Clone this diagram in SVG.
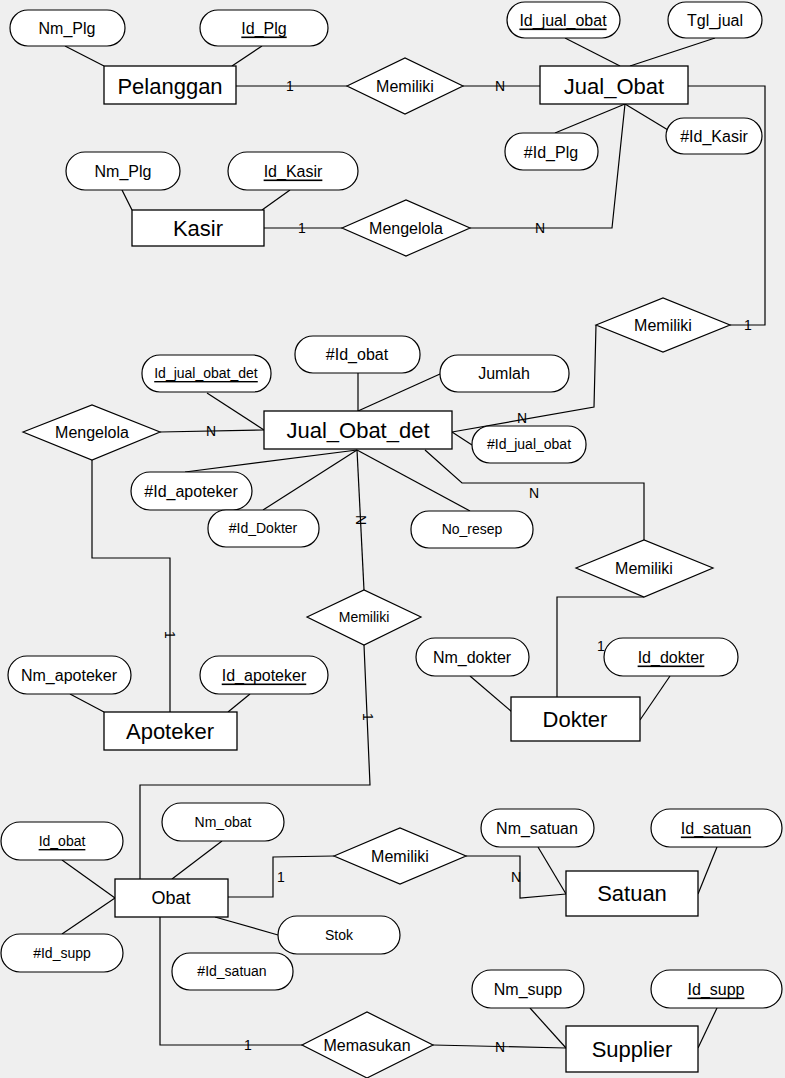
<svg xmlns="http://www.w3.org/2000/svg" width="785" height="1078" viewBox="0 0 785 1078">
<style>
.e{fill:#fff;stroke:#000;stroke-width:1.3}
.a{fill:#fff;stroke:#000;stroke-width:1.2}
.r{fill:#fff;stroke:#000;stroke-width:1.2}
text{font-family:"Liberation Sans Narrow","Liberation Sans",Arial,sans-serif;text-anchor:middle;dominant-baseline:central;fill:#000}
.t{font-size:22px}
.s{font-size:16px}
.x{font-size:14px}
.u{text-decoration:underline}
.c line,.c polyline{stroke:#000;stroke-width:1.2;fill:none}
.c text{font-size:14px}
</style>
<rect width="785" height="1078" fill="#efefef"/>
<g class="c" id="connectors">
<line x1="65" y1="46" x2="104" y2="66"/><line x1="262" y1="46" x2="232" y2="66"/>
<line x1="236" y1="86" x2="347" y2="86"/><text x="290" y="86">1</text>
<line x1="463" y1="86" x2="540" y2="86"/><text x="500" y="86">N</text>
<line x1="565" y1="38" x2="620" y2="66"/><line x1="715" y1="38" x2="630" y2="66"/>
<line x1="625" y1="104" x2="555" y2="133"/><line x1="625" y1="104" x2="668" y2="130"/>
<line x1="122" y1="190" x2="132" y2="210"/><line x1="290" y1="190" x2="262" y2="210"/>
<line x1="264" y1="228" x2="342" y2="228"/><text x="302" y="228">1</text>
<polyline points="470,228 612,228 625,104"/><text x="540" y="228">N</text>
<polyline points="688,86 765,86 765,325 730,325"/><text x="748" y="325">1</text>
<polyline points="596,325 594,407 452,432"/><text x="522" y="418">N</text>
<line x1="452" y1="432" x2="472" y2="445"/>
<line x1="207" y1="393" x2="264" y2="430"/>
<line x1="358" y1="373" x2="358" y2="411"/><line x1="440" y1="374" x2="358" y2="411"/>
<line x1="160" y1="432" x2="264" y2="430"/><text x="211" y="431">N</text>
<polyline points="92,460 92,558 170,558 170,712"/><text x="170" y="635" transform="rotate(90 170 635)">1</text>
<line x1="357" y1="450" x2="185" y2="472"/><line x1="357" y1="450" x2="263" y2="510"/><line x1="357" y1="450" x2="470" y2="511"/>
<line x1="357" y1="450" x2="364" y2="590"/><text x="361" y="520" transform="rotate(90 361 520)">N</text>
<polyline points="425,450 462,483 644,483 644,540"/><text x="534" y="493">N</text>
<polyline points="644,597 557,597 557,697"/>
<line x1="470" y1="676" x2="512" y2="712"/><line x1="670" y1="676" x2="640" y2="720"/><text x="601" y="646">1</text>
<line x1="70" y1="694" x2="104" y2="712"/><line x1="250" y1="694" x2="228" y2="712"/>
<polyline points="364,645 370,785 140,785 140,879"/><text x="368" y="717" transform="rotate(90 368 717)">1</text>
<line x1="62" y1="860" x2="115" y2="898"/><line x1="62" y1="934" x2="115" y2="898"/>
<line x1="222" y1="841" x2="172" y2="879"/><line x1="215" y1="917" x2="278" y2="935"/>
<polyline points="228,897 273,897 273,857 334,856"/><text x="281" y="877">1</text>
<polyline points="466,856 520,856 520,898 566,894"/><text x="516" y="877">N</text>
<line x1="538" y1="847" x2="566" y2="894"/><line x1="717" y1="847" x2="698" y2="894"/>
<polyline points="160,917 160,1045 302,1045"/><text x="248" y="1045">1</text>
<line x1="433" y1="1045" x2="566" y2="1048"/><text x="500" y="1047">N</text>
<line x1="530" y1="1008" x2="566" y2="1048"/><line x1="717" y1="1008" x2="698" y2="1048"/>
</g>
<g id="Pelanggan"><rect class="e" x="104" y="66" width="132" height="38"/><text class="t" x="170" y="86">Pelanggan</text></g>
<g id="Nm_Plg1"><rect class="a" x="10" y="10" width="115" height="36" rx="18"/><text class="s" x="67" y="28">Nm_Plg</text></g>
<g id="Id_Plg"><rect class="a" x="200" y="10" width="128" height="36" rx="18"/><text class="s u" x="264" y="28">Id_Plg</text></g>
<g id="Memiliki1"><polygon class="r" points="347,86 405,58 463,86 405,114"/><text class="s" x="405" y="86">Memiliki</text></g>
<g id="Jual_Obat"><rect class="e" x="540" y="66" width="148" height="38"/><text class="t" x="614" y="86">Jual_Obat</text></g>
<g id="Id_jual_obat"><rect class="a" x="507" y="2" width="113" height="36" rx="18"/><text class="s u" x="563" y="20">Id_jual_obat</text></g>
<g id="Tgl_jual"><rect class="a" x="668" y="2" width="94" height="36" rx="18"/><text class="s" x="715" y="20">Tgl_jual</text></g>
<g id="Id_Plg2"><rect class="a" x="505" y="133" width="93" height="37" rx="18"/><text class="s" x="551" y="152">#Id_Plg</text></g>
<g id="Id_Kasir2"><rect class="a" x="666" y="118" width="96" height="36" rx="18"/><text class="s" x="714" y="136">#Id_Kasir</text></g>
<g id="Kasir"><rect class="e" x="132" y="210" width="132" height="36"/><text class="t" x="198" y="228">Kasir</text></g>
<g id="Nm_Plg2"><rect class="a" x="66" y="152" width="114" height="38" rx="19"/><text class="s" x="123" y="171">Nm_Plg</text></g>
<g id="Id_Kasir"><rect class="a" x="228" y="152" width="130" height="38" rx="19"/><text class="s u" x="293" y="171">Id_Kasir</text></g>
<g id="Mengelola1"><polygon class="r" points="342,228 406,200 470,228 406,256"/><text class="s" x="406" y="228">Mengelola</text></g>
<g id="Memiliki2"><polygon class="r" points="596,325 663,298 730,325 663,352"/><text class="s" x="663" y="325">Memiliki</text></g>
<g id="Jual_Obat_det"><rect class="e" x="264" y="411" width="188" height="38"/><text class="t" x="358" y="430">Jual_Obat_det</text></g>
<g id="Id_jual_obat_det"><rect class="a" x="142" y="355" width="129" height="37" rx="18"/><text class="x u" x="206" y="373">Id_jual_obat_det</text></g>
<g id="Id_obat2"><rect class="a" x="295" y="336" width="125" height="37" rx="18"/><text class="s" x="357" y="354">#Id_obat</text></g>
<g id="Jumlah"><rect class="a" x="440" y="355" width="129" height="37" rx="18"/><text class="s" x="504" y="373">Jumlah</text></g>
<g id="Id_jual_obat2"><rect class="a" x="472" y="426" width="114" height="37" rx="18"/><text class="x" x="529" y="444">#Id_jual_obat</text></g>
<g id="Mengelola2"><polygon class="r" points="23,432 92,405 160,432 92,460"/><text class="s" x="92" y="432">Mengelola</text></g>
<g id="Id_apoteker2"><rect class="a" x="131" y="472" width="121" height="38" rx="19"/><text class="s" x="191" y="491">#Id_apoteker</text></g>
<g id="Id_Dokter2"><rect class="a" x="208" y="510" width="111" height="37" rx="18"/><text class="x" x="263" y="528">#Id_Dokter</text></g>
<g id="No_resep"><rect class="a" x="411" y="511" width="122" height="37" rx="18"/><text class="x" x="472" y="529">No_resep</text></g>
<g id="Memiliki3"><polygon class="r" points="307,617 364,590 421,617 364,645"/><text class="x" x="364" y="617">Memiliki</text></g>
<g id="Memiliki4"><polygon class="r" points="576,568 644,540 713,568 644,597"/><text class="s" x="644" y="568">Memiliki</text></g>
<g id="Dokter"><rect class="e" x="511" y="697" width="129" height="44"/><text class="t" x="575" y="719">Dokter</text></g>
<g id="Nm_dokter"><rect class="a" x="416" y="638" width="113" height="38" rx="19"/><text class="s" x="472" y="657">Nm_dokter</text></g>
<g id="Id_dokter"><rect class="a" x="604" y="638" width="134" height="38" rx="19"/><text class="s u" x="671" y="657">Id_dokter</text></g>
<g id="Apoteker"><rect class="e" x="104" y="712" width="133" height="38"/><text class="t" x="170" y="731">Apoteker</text></g>
<g id="Nm_apoteker"><rect class="a" x="8" y="656" width="123" height="38" rx="19"/><text class="s" x="69" y="675">Nm_apoteker</text></g>
<g id="Id_apoteker"><rect class="a" x="200" y="656" width="128" height="38" rx="19"/><text class="s u" x="264" y="675">Id_apoteker</text></g>
<g id="Obat"><rect class="e" x="115" y="879" width="113" height="38"/><text class="s" x="171" y="898" style="font-size:18px">Obat</text></g>
<g id="Id_obat"><rect class="a" x="1" y="822" width="122" height="38" rx="19"/><text class="x u" x="62" y="841">Id_obat</text></g>
<g id="Id_supp2"><rect class="a" x="1" y="934" width="122" height="38" rx="19"/><text class="x" x="62" y="953">#Id_supp</text></g>
<g id="Nm_obat"><rect class="a" x="162" y="803" width="122" height="38" rx="19"/><text class="x" x="223" y="822">Nm_obat</text></g>
<g id="Stok"><rect class="a" x="278" y="916" width="122" height="38" rx="19"/><text class="x" x="339" y="935">Stok</text></g>
<g id="Id_satuan2"><rect class="a" x="172" y="953" width="121" height="37" rx="18"/><text class="x" x="232" y="971">#Id_satuan</text></g>
<g id="Memiliki5"><polygon class="r" points="334,856 400,828 466,856 400,884"/><text class="s" x="400" y="856">Memiliki</text></g>
<g id="Satuan"><rect class="e" x="566" y="871" width="132" height="45"/><text class="t" x="632" y="893">Satuan</text></g>
<g id="Nm_satuan"><rect class="a" x="481" y="809" width="113" height="38" rx="19"/><text class="s" x="537" y="828">Nm_satuan</text></g>
<g id="Id_satuan"><rect class="a" x="651" y="809" width="131" height="38" rx="19"/><text class="s u" x="716" y="828">Id_satuan</text></g>
<g id="Memasukan"><polygon class="r" points="302,1045 367,1012 433,1045 367,1078"/><text class="s" x="367" y="1045">Memasukan</text></g>
<g id="Supplier"><rect class="e" x="566" y="1026" width="132" height="46"/><text class="t" x="632" y="1049">Supplier</text></g>
<g id="Nm_supp"><rect class="a" x="472" y="970" width="112" height="38" rx="19"/><text class="s" x="528" y="989">Nm_supp</text></g>
<g id="Id_supp"><rect class="a" x="651" y="970" width="131" height="38" rx="19"/><text class="s u" x="716" y="989">Id_supp</text></g>
</svg>
